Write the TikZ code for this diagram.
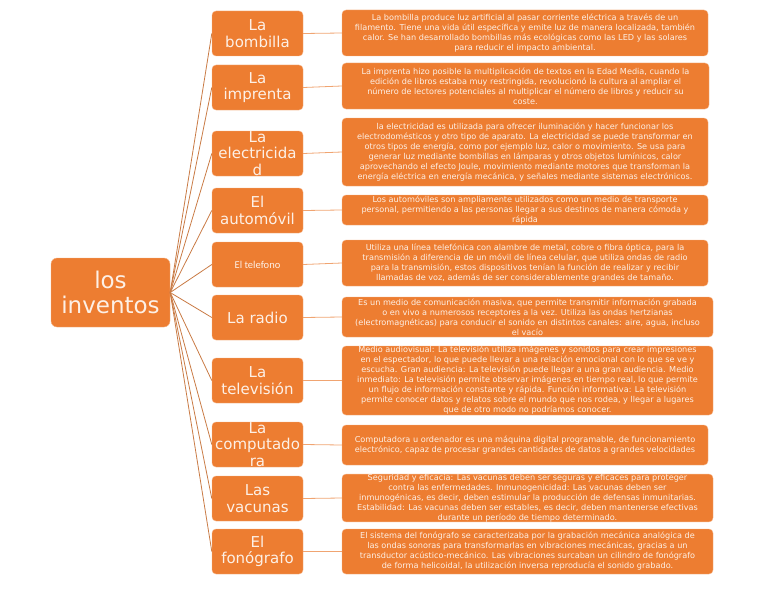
\documentclass[tikz,border=0pt]{standalone}
\usepackage{fontspec}
\setmainfont{DejaVu Sans}
\newfontfamily\carlito{Carlito}
\usetikzlibrary{positioning}
\definecolor{naranja}{HTML}{ED7D31}
\definecolor{borde}{HTML}{F4B183}
\definecolor{rama}{HTML}{C97B45}
\definecolor{enlace}{HTML}{F0A471}
\definecolor{letra}{HTML}{FDF0E6}

\begin{document}
\begin{tikzpicture}[x=1pt,y=-1pt,
  mainbox/.style={fill=naranja,draw=borde,rounded corners=6pt,text=letra,align=center,inner sep=0pt,
    minimum width=119,minimum height=69,font=\fontsize{23}{25}\selectfont},
  itembox/.style={fill=naranja,draw=borde,rounded corners=4pt,text=letra,align=center,inner sep=0pt,
    minimum width=91,minimum height=45,font=\fontsize{15}{16.5}\selectfont},
  infobox/.style={fill=naranja,draw=borde,rounded corners=4pt,text=letra,align=center,inner sep=0pt,
    font=\fontsize{8.15}{10}\selectfont}]
  \useasboundingbox (0,0) rectangle (768,594);

  \node[mainbox] (root) at (110.5,292.5) {los\\inventos};

  % los inventos
  \node[itembox] (it1) at (257.5,33.5) {La\\bombilla};
  \node[itembox] (it2) at (257.5,87.5) {La\\imprenta};
  \node[itembox] (it3) at (257.5,153.5) {La\\electricida\\d};
  \node[itembox] (it4) at (257.5,210.5) {El\\automóvil};
  \node[itembox,font=\carlito\fontsize{10.5}{12}\selectfont] (it5) at (257.5,264.5) {El telefono};
  \node[itembox] (it6) at (257.5,317.5) {La radio};
  \node[itembox] (it7) at (257.5,380.5) {La\\televisión};
  \node[itembox] (it8) at (257.5,444.5) {La\\computado\\ra};
  \node[itembox] (it9) at (257.5,498.5) {Las\\vacunas};
  \node[itembox] (it10) at (257.5,551.5) {El\\fonógrafo};

  % descripciones
  \node[infobox,minimum width=366,minimum height=46] (inf1) at (525,33) {La bombilla produce luz artificial al pasar corriente eléctrica a través de un\\filamento. Tiene una vida útil específica y emite luz de manera localizada, también\\calor. Se han desarrollado bombillas más ecológicas como las LED y las solares\\para reducir el impacto ambiental.};
  \node[infobox,minimum width=367,minimum height=46] (inf2) at (525.5,86) {La imprenta hizo posible la multiplicación de textos en la Edad Media, cuando la\\edición de libros estaba muy restringida, revolucionó la cultura al ampliar el\\número de lectores potenciales al multiplicar el número de libros y reducir su\\coste.};
  \node[infobox,minimum width=366,minimum height=68] (inf3) at (525,152) {la electricidad es utilizada para ofrecer iluminación y hacer funcionar los\\electrodomésticos y otro tipo de aparato. La electricidad se puede transformar en\\otros tipos de energía, como por ejemplo luz, calor o movimiento. Se usa para\\generar luz mediante bombillas en lámparas y otros objetos lumínicos, calor\\aprovechando el efecto Joule, movimiento mediante motores que transforman la\\energía eléctrica en energía mecánica, y señales mediante sistemas electrónicos.};
  \node[infobox,minimum width=366,minimum height=30] (inf4) at (525,210) {Los automóviles son ampliamente utilizados como un medio de transporte\\personal, permitiendo a las personas llegar a sus destinos de manera cómoda y\\rápida};
  \node[infobox,minimum width=366,minimum height=46] (inf5) at (525,263) {Utiliza una línea telefónica con alambre de metal, cobre o fibra óptica, para la\\transmisión a diferencia de un móvil de línea celular, que utiliza ondas de radio\\para la transmisión, estos dispositivos tenían la función de realizar y recibir\\llamadas de voz, además de ser considerablemente grandes de tamaño.};
  \node[infobox,minimum width=371,minimum height=40] (inf6) at (527.5,317) {Es un medio de comunicación masiva, que permite transmitir información grabada\\o en vivo a numerosos receptores a la vez. Utiliza las ondas hertzianas\\(electromagnéticas) para conducir el sonido en distintos canales: aire, agua, incluso\\el vacío};
  \node[infobox,minimum width=371,minimum height=69] (inf7) at (527.5,380.5) {Medio audiovisual: La televisión utiliza imágenes y sonidos para crear impresiones\\en el espectador, lo que puede llevar a una relación emocional con lo que se ve y\\escucha. Gran audiencia: La televisión puede llegar a una gran audiencia. Medio\\inmediato: La televisión permite observar imágenes en tiempo real, lo que permite\\un flujo de información constante y rápida. Función informativa: La televisión\\permite conocer datos y relatos sobre el mundo que nos rodea, y llegar a lugares\\que de otro modo no podríamos conocer.};
  \node[infobox,minimum width=366,minimum height=40] (inf8) at (525,445) {Computadora u ordenador es una máquina digital programable, de funcionamiento\\electrónico, capaz de procesar grandes cantidades de datos a grandes velocidades};
  \node[infobox,minimum width=371,minimum height=44] (inf9) at (527.5,498) {Seguridad y eficacia: Las vacunas deben ser seguras y eficaces para proteger\\contra las enfermedades. Inmunogenicidad: Las vacunas deben ser\\inmunogénicas, es decir, deben estimular la producción de defensas inmunitarias.\\Estabilidad: Las vacunas deben ser estables, es decir, deben mantenerse efectivas\\durante un período de tiempo determinado.};
  \node[infobox,minimum width=371,minimum height=45] (inf10) at (527.5,551.5) {El sistema del fonógrafo se caracterizaba por la grabación mecánica analógica de\\las ondas sonoras para transformarlas en vibraciones mecánicas, gracias a un\\transductor acústico-mecánico. Las vibraciones surcaban un cilindro de fonógrafo\\de forma helicoidal, la utilización inversa reproducía el sonido grabado.};

  \foreach \i in {1,...,10} {
    \draw[rama,line width=0.8pt] (root.east) -- (it\i.west);
    \draw[enlace,line width=0.8pt] (it\i.east) -- (inf\i.west);
  }
\end{tikzpicture}
\end{document}
